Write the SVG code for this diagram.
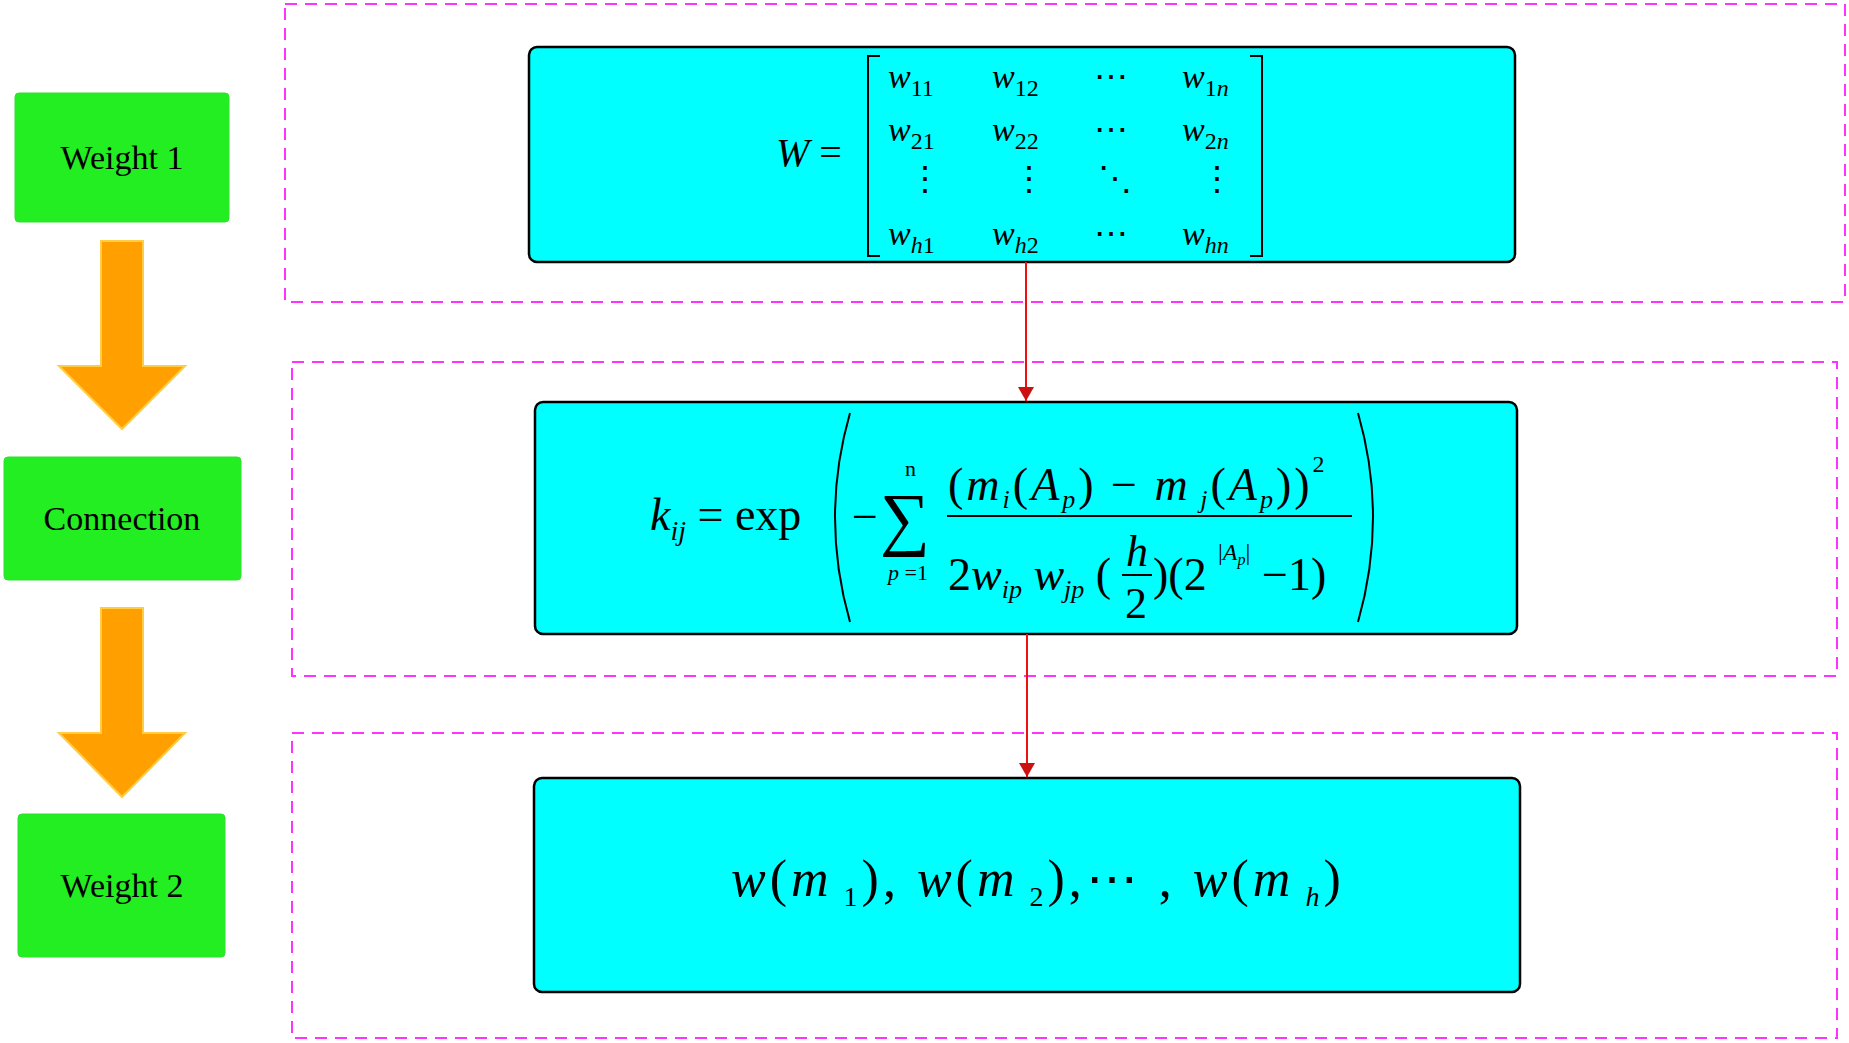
<svg xmlns="http://www.w3.org/2000/svg" width="1849" height="1043" viewBox="0 0 1849 1043">
<style>
.dash{fill:none;stroke:#ff33ff;stroke-width:2;stroke-dasharray:12 8}
.cy{fill:#00ffff;stroke:#000;stroke-width:2.5}
.gr{fill:#22ee22;stroke:#33dd33;stroke-width:1}
.lbl{font-family:"Liberation Serif",serif;font-size:34px;fill:#000;text-anchor:middle}
.m{font-family:"Liberation Serif",serif;fill:#000}
.i{font-style:italic}
.or{fill:#ffa000;stroke:#ffcc44;stroke-width:2}
.ln{stroke:#ee1111;stroke-width:2;fill:none}
</style>
<defs>
<marker id="ah" markerWidth="14" markerHeight="16" refX="14" refY="8" orient="auto" markerUnits="userSpaceOnUse">
<path d="M0,0 L14,8 L0,16 z" fill="#cc1111"/>
</marker>
</defs>
<rect width="1849" height="1043" fill="#fff"/>
<rect class="dash" x="285" y="4" width="1560" height="298"/>
<rect class="dash" x="292" y="362" width="1545" height="314"/>
<rect class="dash" x="292" y="733" width="1545" height="305"/>

<g id="weight1"><rect class="gr" x="15" y="93" width="214" height="129" rx="4"/><text class="lbl" x="122" y="169">Weight 1</text></g>
<g id="connection"><rect class="gr" x="4" y="457" width="237" height="123" rx="4"/><text class="lbl" x="122" y="530">Connection</text></g>
<g id="weight2"><rect class="gr" x="18" y="814" width="207" height="143" rx="4"/><text class="lbl" x="122" y="897">Weight 2</text></g>

<g id="orange-arrows">
<path class="or" d="M101,241 H143 V366 H185 L122,429 L59,366 H101 Z"/>
<path class="or" d="M101,608 H143 V733 H185 L122,797 L59,733 H101 Z"/>
</g>

<g id="matrix">
<rect class="cy" x="529" y="47" width="986" height="215" rx="8"/>
<text class="m" font-size="40" x="776" y="166"><tspan class="i">W</tspan> =</text>
<path d="M880,56 H868 V256 H880 M1250,56 H1262 V256 H1250" fill="none" stroke="#000" stroke-width="2"/>
<g class="m" font-size="34">
<text x="888" y="88"><tspan class="i">w</tspan><tspan font-size="24" dy="8">11</tspan></text>
<text x="992" y="88"><tspan class="i">w</tspan><tspan font-size="24" dy="8">12</tspan></text>
<text x="1094" y="88">⋯</text>
<text x="1182" y="88"><tspan class="i">w</tspan><tspan font-size="24" dy="8">1<tspan class="i">n</tspan></tspan></text>
<text x="888" y="141"><tspan class="i">w</tspan><tspan font-size="24" dy="8">21</tspan></text>
<text x="992" y="141"><tspan class="i">w</tspan><tspan font-size="24" dy="8">22</tspan></text>
<text x="1094" y="141">⋯</text>
<text x="1182" y="141"><tspan class="i">w</tspan><tspan font-size="24" dy="8">2<tspan class="i">n</tspan></tspan></text>
<text x="908" y="190">⋮</text>
<text x="1012" y="190">⋮</text>
<text x="1098" y="190">⋱</text>
<text x="1200" y="190">⋮</text>
<text x="888" y="245"><tspan class="i">w</tspan><tspan font-size="24" dy="8"><tspan class="i">h</tspan>1</tspan></text>
<text x="992" y="245"><tspan class="i">w</tspan><tspan font-size="24" dy="8"><tspan class="i">h</tspan>2</tspan></text>
<text x="1094" y="245">⋯</text>
<text x="1182" y="245"><tspan class="i">w</tspan><tspan font-size="24" dy="8"><tspan class="i">hn</tspan></tspan></text>
</g>
</g>

<g id="kernel">
<rect class="cy" x="535" y="402" width="982" height="232" rx="8"/>
<g class="m">
<text x="650" y="530" font-size="46"><tspan class="i">k</tspan><tspan class="i" font-size="28" dy="10">ij</tspan><tspan dy="-10"> = exp</tspan></text>
<path d="M850,413 Q820,517 850,622" fill="none" stroke="#000" stroke-width="2"/>
<path d="M1358,413 Q1388,517 1358,622" fill="none" stroke="#000" stroke-width="2"/>
<text x="852" y="532" font-size="46">−</text>
<text x="880" y="542" font-size="70">∑</text>
<text x="905" y="476" font-size="22">n</text>
<text x="888" y="580" font-size="22"><tspan class="i">p</tspan> =1</text>
<text x="948" y="500" font-size="46" letter-spacing="3">(<tspan class="i">m</tspan><tspan class="i" font-size="26" dy="8">i</tspan><tspan dy="-8">(</tspan><tspan class="i">A</tspan><tspan class="i" font-size="26" dy="8">p</tspan><tspan dy="-8">) − </tspan><tspan class="i">m</tspan><tspan class="i" font-size="26" dy="8"> j</tspan><tspan dy="-8">(</tspan><tspan class="i">A</tspan><tspan class="i" font-size="26" dy="8">p</tspan><tspan dy="-8">))</tspan><tspan font-size="24" dy="-28">2</tspan></text>
<line x1="947" y1="516" x2="1352" y2="516" stroke="#000" stroke-width="2"/>
<text x="948" y="590" font-size="46">2<tspan class="i">w</tspan><tspan class="i" font-size="26" dy="8">ip</tspan><tspan class="i" dy="-8"> w</tspan><tspan class="i" font-size="26" dy="8">jp</tspan><tspan dy="-8"> (</tspan></text>
<text x="1126" y="566" font-size="44" class="i">h</text>
<line x1="1122" y1="575" x2="1152" y2="575" stroke="#000" stroke-width="2"/>
<text x="1125" y="618" font-size="44">2</text>
<text x="1153" y="590" font-size="46">)(2</text>
<text x="1218" y="560" font-size="24">|<tspan class="i">A</tspan><tspan class="i" font-size="16" dy="5">p</tspan><tspan dy="-5">|</tspan></text>
<text x="1262" y="590" font-size="46">−1)</text>
</g>
</g>

<g id="weights">
<rect class="cy" x="534" y="778" width="986" height="214" rx="8"/>
<text class="m" x="731" y="896" font-size="52" letter-spacing="4"><tspan class="i">w</tspan>(<tspan class="i">m</tspan><tspan font-size="28" dy="10"> 1</tspan><tspan dy="-10">), </tspan><tspan class="i">w</tspan>(<tspan class="i">m</tspan><tspan font-size="28" dy="10"> 2</tspan><tspan dy="-10">),⋯ , </tspan><tspan class="i">w</tspan>(<tspan class="i">m</tspan><tspan class="i" font-size="28" dy="10"> h</tspan><tspan dy="-10">)</tspan></text>
</g>

<g id="connectors">
<line class="ln" x1="1026" y1="262" x2="1026" y2="401" marker-end="url(#ah)"/>
<line class="ln" x1="1027" y1="634" x2="1027" y2="777" marker-end="url(#ah)"/>
</g>
</svg>
